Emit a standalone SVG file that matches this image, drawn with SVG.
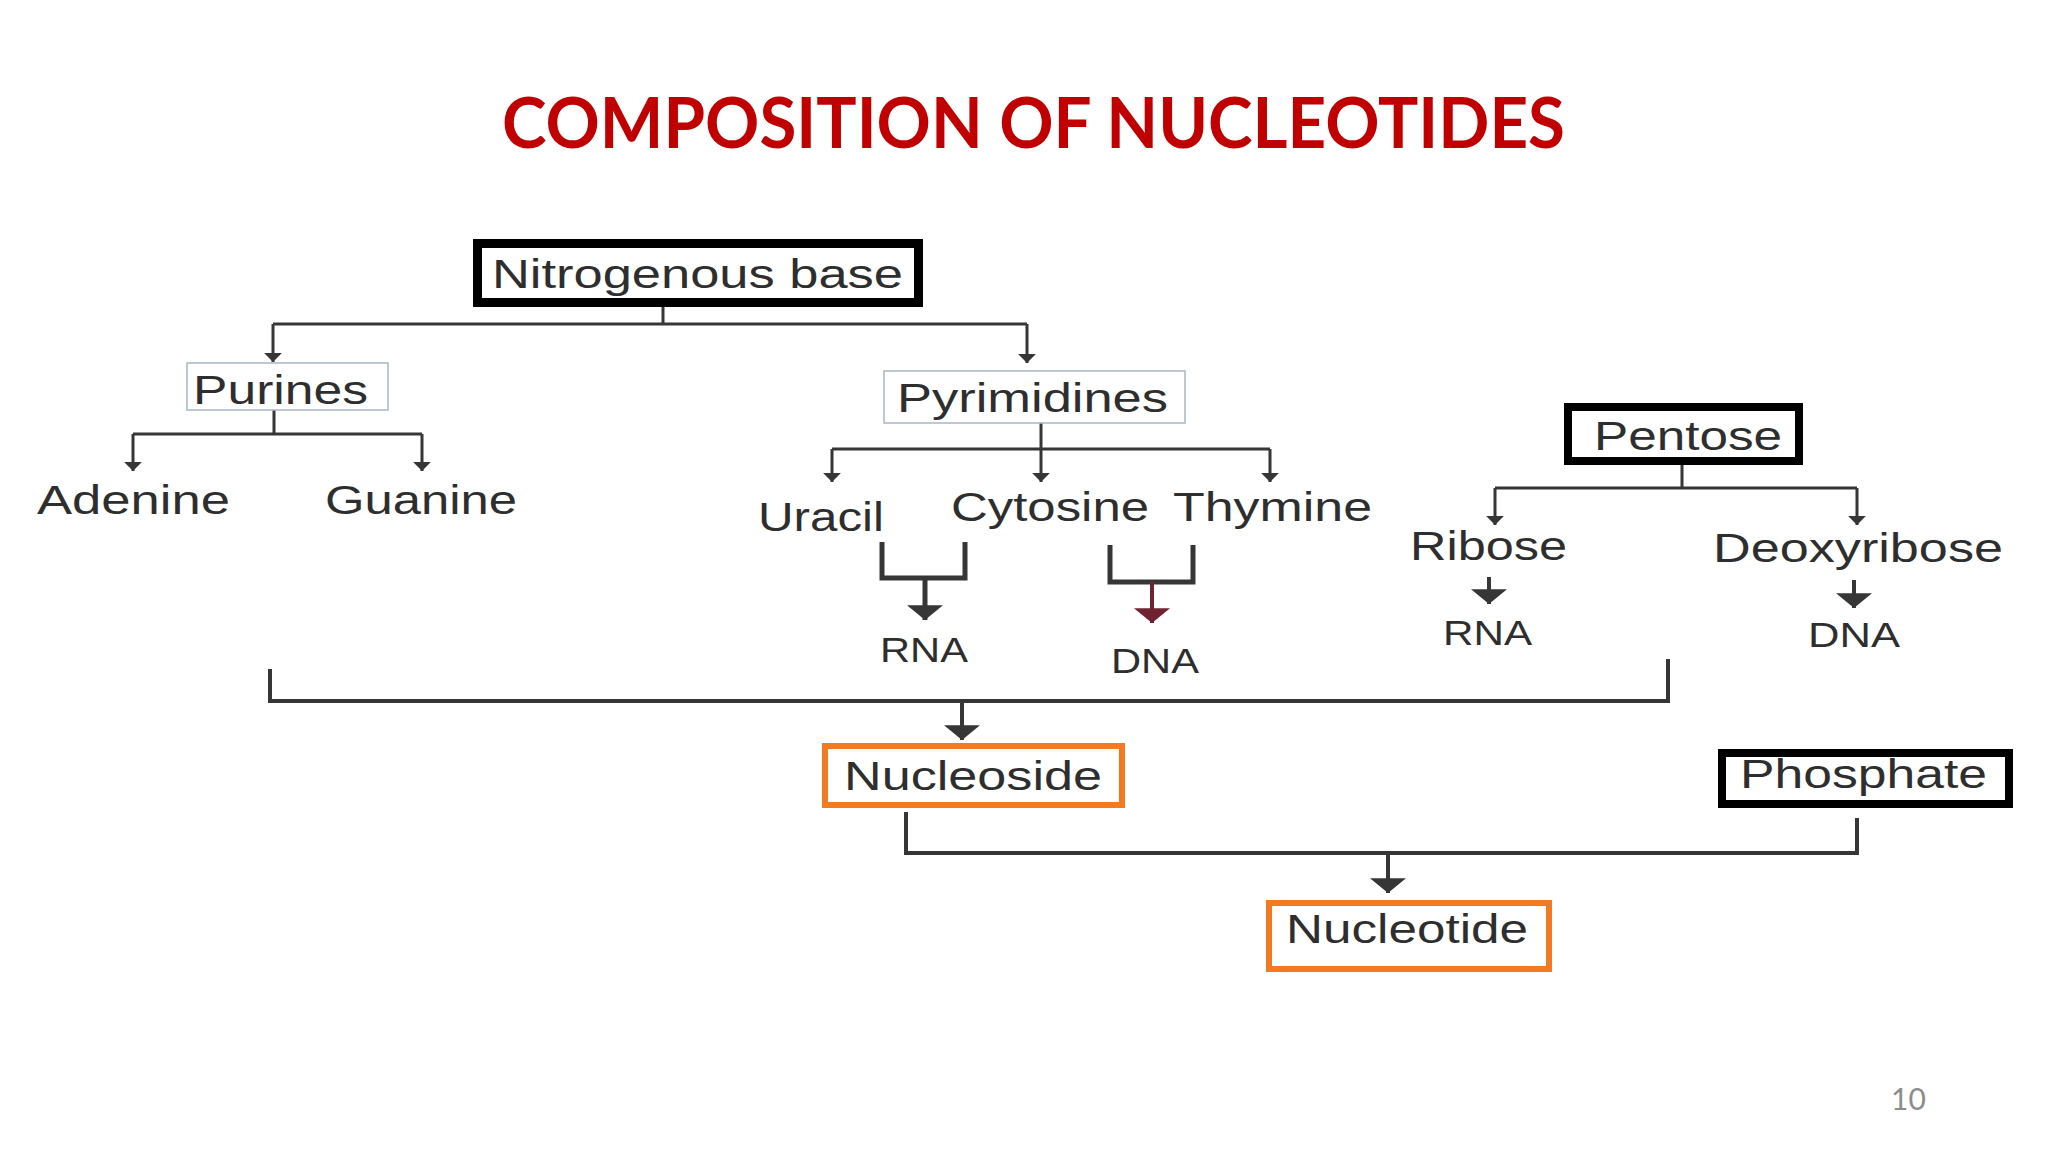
<svg xmlns="http://www.w3.org/2000/svg" width="2048" height="1152" viewBox="0 0 2048 1152">
<defs>
<style>
.lbl{font-family:"Liberation Sans",Arial,sans-serif;font-size:41px;fill:#2e2e2e;}
.sm{font-size:35px;}
.thin{fill:#ffffff;stroke:#a9b7c6;stroke-width:1.5;}
.blk{fill:#ffffff;stroke:#000000;}
.org{fill:#ffffff;stroke:#f47a22;stroke-width:6;}
.ln{fill:none;stroke:#363636;stroke-width:3;}
.lnb{fill:none;stroke:#363636;stroke-width:4;}
.br{fill:none;stroke:#363636;stroke-width:5;}
</style>
<marker id="ah" markerUnits="userSpaceOnUse" markerWidth="10" markerHeight="18" refX="8" refY="8" orient="auto" viewBox="0 0 9 16">
<path d="M0,0 L8,8 L0,16 z" fill="#363636"/>
</marker>
<marker id="ahb" markerUnits="userSpaceOnUse" markerWidth="16" markerHeight="36" refX="14" refY="17" orient="auto" viewBox="0 0 15 34">
<path d="M0,0 L14,17 L0,34 z" fill="#363636"/>
</marker>
<marker id="ahm" markerUnits="userSpaceOnUse" markerWidth="16" markerHeight="36" refX="14" refY="17" orient="auto" viewBox="0 0 15 34">
<path d="M0,0 L14,17 L0,34 z" fill="#6e2232"/>
</marker>
</defs>
<rect width="2048" height="1152" fill="#ffffff"/>
<text x="502" y="148" textLength="1063" lengthAdjust="spacingAndGlyphs" font-family="Lato,'Open Sans',sans-serif" font-weight="bold" font-size="70" fill="#c00000">COMPOSITION OF NUCLEOTIDES</text>

<g id="connectors">
<path class="ln" d="M663 307 V324 M273 324 H1027"/>
<path class="ln" d="M273 324 V362" marker-end="url(#ah)"/>
<path class="ln" d="M1027 324 V363" marker-end="url(#ah)"/>
<path class="ln" d="M274 410 V434 M133 434 H422"/>
<path class="ln" d="M133 434 V471" marker-end="url(#ah)"/>
<path class="ln" d="M422 434 V471" marker-end="url(#ah)"/>
<path class="ln" d="M832 449 H1270"/>
<path class="ln" d="M1041 423 V482" marker-end="url(#ah)"/>
<path class="ln" d="M832 449 V482" marker-end="url(#ah)"/>
<path class="ln" d="M1270 449 V482" marker-end="url(#ah)"/>
<path class="ln" d="M1682 465 V488 M1495 488 H1857"/>
<path class="ln" d="M1495 488 V525" marker-end="url(#ah)"/>
<path class="ln" d="M1857 488 V525" marker-end="url(#ah)"/>
<path class="lnb" d="M1489 577 V604" marker-end="url(#ahb)"/>
<path class="lnb" d="M1854 580 V608" marker-end="url(#ahb)"/>
<path class="br" d="M882 542 V578 H965 V542"/>
<path class="br" d="M925 578 V620" marker-end="url(#ahb)"/>
<path class="br" d="M1110 545 V582 H1193 V545"/>
<path fill="none" stroke="#6e2232" stroke-width="4" d="M1152 582 V623" marker-end="url(#ahm)"/>
<path class="lnb" d="M270 669 V701 H1668 V659"/>
<path class="lnb" d="M962 701 V740" marker-end="url(#ahb)"/>
<path class="lnb" d="M906 812 V853 H1857 V818"/>
<path class="lnb" d="M1388 853 V893" marker-end="url(#ahb)"/>
</g>

<g id="nitrogenous-base">
<rect class="blk" x="477.5" y="243.5" width="441" height="59" stroke-width="9"/>
<text class="lbl" x="492" y="288" font-size="42" textLength="411" lengthAdjust="spacingAndGlyphs">Nitrogenous base</text>
</g>
<g id="purines">
<rect class="thin" x="187" y="363" width="201" height="47"/>
<text class="lbl" x="193" y="404" textLength="175" lengthAdjust="spacingAndGlyphs">Purines</text>
</g>
<g id="adenine"><text class="lbl" x="37" y="514" textLength="193" lengthAdjust="spacingAndGlyphs">Adenine</text></g>
<g id="guanine"><text class="lbl" x="325" y="514" textLength="192" lengthAdjust="spacingAndGlyphs">Guanine</text></g>
<g id="pyrimidines">
<rect class="thin" x="884" y="371" width="301" height="52"/>
<text class="lbl" x="897" y="412" font-size="39" textLength="271" lengthAdjust="spacingAndGlyphs">Pyrimidines</text>
</g>
<g id="uracil"><text class="lbl" x="758" y="531" font-size="44" textLength="126" lengthAdjust="spacingAndGlyphs">Uracil</text></g>
<g id="cytosine"><text class="lbl" x="951" y="521" textLength="198" lengthAdjust="spacingAndGlyphs">Cytosine</text></g>
<g id="thymine"><text class="lbl" x="1173" y="521" textLength="199" lengthAdjust="spacingAndGlyphs">Thymine</text></g>
<g id="rna-1"><text class="lbl sm" x="880" y="662" textLength="88" lengthAdjust="spacingAndGlyphs">RNA</text></g>
<g id="dna-1"><text class="lbl sm" x="1111" y="673" textLength="88" lengthAdjust="spacingAndGlyphs">DNA</text></g>
<g id="pentose">
<rect class="blk" x="1568" y="407" width="231" height="54" stroke-width="8"/>
<text class="lbl" x="1594" y="450" font-size="38" textLength="188" lengthAdjust="spacingAndGlyphs">Pentose</text>
</g>
<g id="ribose"><text class="lbl" x="1410" y="560" font-size="40" textLength="157" lengthAdjust="spacingAndGlyphs">Ribose</text></g>
<g id="deoxyribose"><text class="lbl" x="1713" y="562" font-size="40" textLength="290" lengthAdjust="spacingAndGlyphs">Deoxyribose</text></g>
<g id="rna-2"><text class="lbl sm" x="1443" y="645" textLength="89" lengthAdjust="spacingAndGlyphs">RNA</text></g>
<g id="dna-2"><text class="lbl sm" x="1808" y="647" textLength="92" lengthAdjust="spacingAndGlyphs">DNA</text></g>
<g id="nucleoside">
<rect class="org" x="825" y="746" width="297" height="59"/>
<text class="lbl" x="844" y="790" font-size="39" textLength="258" lengthAdjust="spacingAndGlyphs">Nucleoside</text>
</g>
<g id="phosphate">
<rect class="blk" x="1722" y="753" width="287" height="51" stroke-width="8"/>
<text class="lbl" x="1740" y="788" font-size="36" textLength="247" lengthAdjust="spacingAndGlyphs">Phosphate</text>
</g>
<g id="nucleotide">
<rect class="org" x="1269" y="903" width="280" height="66"/>
<text class="lbl" x="1286" y="943" font-size="39" textLength="242" lengthAdjust="spacingAndGlyphs">Nucleotide</text>
</g>
<text x="1891" y="1110" font-family="Lato,'Liberation Sans',sans-serif" font-size="30" fill="#8c8c8c">10</text>
</svg>
